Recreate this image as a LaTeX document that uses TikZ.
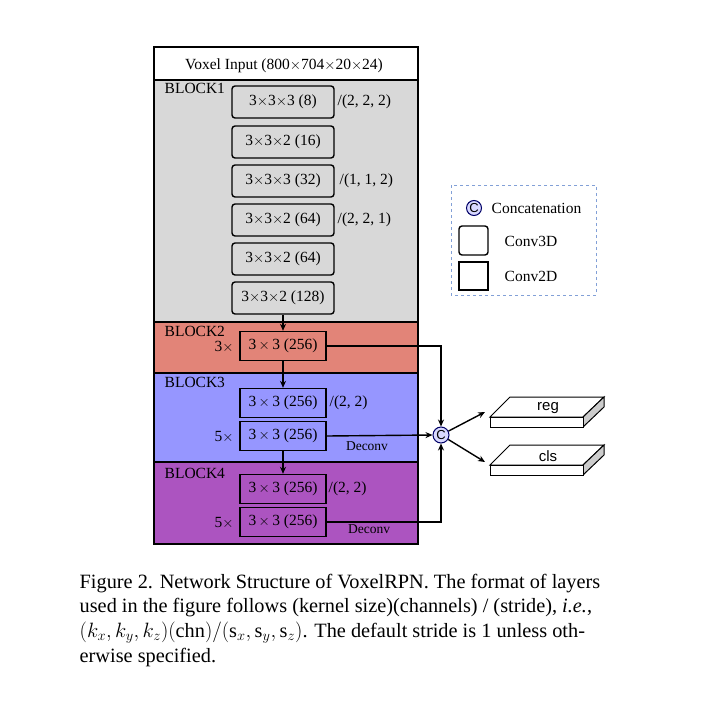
\documentclass[tikz,border=0pt]{standalone}
\usepackage{fontspec}
\setmainfont{Liberation Serif}
\newfontfamily\sansf{Liberation Sans}
\usetikzlibrary{arrows.meta}
\definecolor{bg1}{RGB}{216,216,216}
\definecolor{bg2}{RGB}{226,132,120}
\definecolor{bg3}{RGB}{150,150,255}
\definecolor{bg4}{RGB}{172,84,192}
\definecolor{legd}{RGB}{130,160,215}
\begin{document}
\begin{tikzpicture}[x=1pt,y=-1pt,line width=1.4pt,
 lbl/.style={font=\fontsize{15.5}{17}\selectfont,inner sep=0},
 c3d/.style={draw,rounded corners=3,minimum width=102,minimum height=32,font=\fontsize{15.5}{17}\selectfont,inner sep=0},
 c2d/.style={draw,minimum width=86,minimum height=29,font=\fontsize{15.5}{17}\selectfont,inner sep=0},
 arr/.style={-{Stealth[length=7pt,width=6pt]}},
 cat/.style={circle,draw=blue!40!black,fill=blue!15,line width=1pt,minimum size=16,inner sep=0,font=\sansf\fontsize{13}{14}\selectfont},
 slab/.style={draw,line width=1pt,fill=white}]
\useasboundingbox (0,0) rectangle (703,701);
\fill[white] (0,0) rectangle (703,701);
% panels
\fill[white] (154,47) rectangle (418,80);
\fill[bg1] (154,80) rectangle (418,322);
\fill[bg2] (154,322) rectangle (418,373);
\fill[bg3] (154,373) rectangle (418,462);
\fill[bg4] (154,462) rectangle (418,544);
\draw (154,47) rectangle (418,544);
\draw (154,80)--(418,80) (154,322)--(418,322) (154,373)--(418,373) (154,462)--(418,462);
\node[lbl] (hdr) at (284,66) {Voxel Input (800$\times$704$\times$20$\times$24)};
\node[lbl,anchor=west] (b1) at (164,88) {BLOCK1};
\node[lbl,anchor=west] (b2) at (164,331) {BLOCK2};
\node[lbl,anchor=west] (b3) at (164,382) {BLOCK3};
\node[lbl,anchor=west] (b4) at (164,473) {BLOCK4};
% block1
\node[c3d] (a1) at (283,102) {3$\times$3$\times$3 (8)};
\node[c3d] (a2) at (283,142) {3$\times$3$\times$2 (16)};
\node[c3d] (a3) at (283,181) {3$\times$3$\times$3 (32)};
\node[c3d] (a4) at (283,220) {3$\times$3$\times$2 (64)};
\node[c3d] (a5) at (283,259) {3$\times$3$\times$2 (64)};
\node[c3d] (a6) at (283,298) {3$\times$3$\times$2 (128)};
\node[lbl,anchor=west] (s1) at (337,102) {/(2, 2, 2)};
\node[lbl,anchor=west] (s3) at (339,181) {/(1, 1, 2)};
\node[lbl,anchor=west] (s4) at (337,220) {/(2, 2, 1)};
% block2-4
\node[c2d] (b2c) at (283,346) {3$\,\times\,$3 (256)};
\node[lbl] (t2) at (224,347) {3$\times$};
\node[c2d] (b3a) at (283,403) {3$\,\times\,$3 (256)};
\node[c2d] (b3b) at (283,436) {3$\,\times\,$3 (256)};
\node[lbl] (t3) at (224,437) {5$\times$};
\node[lbl,anchor=west] (s5) at (329,403) {/(2, 2)};
\node[inner sep=0,font=\fontsize{13.5}{14}\selectfont] (d3) at (367,446) {Deconv};
\node[c2d] (b4a) at (283,489) {3$\,\times\,$3 (256)};
\node[c2d] (b4b) at (283,522) {3$\,\times\,$3 (256)};
\node[lbl] (t4) at (224,523) {5$\times$};
\node[lbl,anchor=west] (s6) at (328,489) {/(2, 2)};
\node[inner sep=0,font=\fontsize{13.5}{14}\selectfont] (d4) at (369,529) {Deconv};
\draw[arr] (a6) -- (b2c);
\draw[arr] (b2c) -- (b3a);
\draw[arr] (b3b) -- (b4a);
% concat
\node[cat] (cc) at (441,435) {C};
\draw[arr] (b2c.east) -| (cc.north);
\draw[arr] (b3b.east) -- (cc.west);
\draw[arr] (b4b.east) -| (cc.south);
\coordinate (r1) at (485,412);
\coordinate (r2) at (485,462);
\draw[arr] (cc) -- (r1);
\draw[arr] (cc) -- (r2);
% slabs
\foreach \n/\yy/\t in {reg/417/reg, cls/465/cls}{
 \draw[slab] (490,\yy) -- (510,\yy-20) -- (604,\yy-20) -- (583,\yy) -- cycle;
 \draw[slab,fill=gray!40] (583,\yy) -- (604,\yy-20) -- (604,\yy-10) -- (583,\yy+10) -- cycle;
 \draw[slab] (490,\yy) rectangle (583,\yy+10);
 \node[font=\sansf\fontsize{15}{16}\selectfont,inner sep=0] (\n) at (548,\yy-9) {\t};
}
% legend
\draw[legd,dashed,line width=0.8pt] (451,185) rectangle (596,295);
\node[cat,minimum size=15] (lc) at (474,208) {C};
\node[lbl,anchor=west] (lct) at (491,208) {Concatenation};
\draw[rounded corners=3] (459,226) rectangle (488,255);
\node[lbl] (l3) at (531,241) {Conv3D};
\draw (459,262) rectangle (488,290);
\node[lbl] (l2) at (531,276) {Conv2D};
% caption
\node[anchor=north west,inner sep=0,text width=593,align=justify,font=\fontsize{20.3}{24.7}\selectfont] (cap) at (79,573)
{Figure 2. Network Structure of VoxelRPN. The format of layers\\
used in the figure follows (kernel size)(channels) / (stride), \textit{i.e.},\\
$(k_x,k_y,k_z)(\mathrm{chn})/(\mathrm{s}_x,\mathrm{s}_y,\mathrm{s}_z)$. The default stride is 1 unless oth-\\
\mbox{}erwise specified.\hfill\mbox{}};
\end{tikzpicture}
\end{document}
